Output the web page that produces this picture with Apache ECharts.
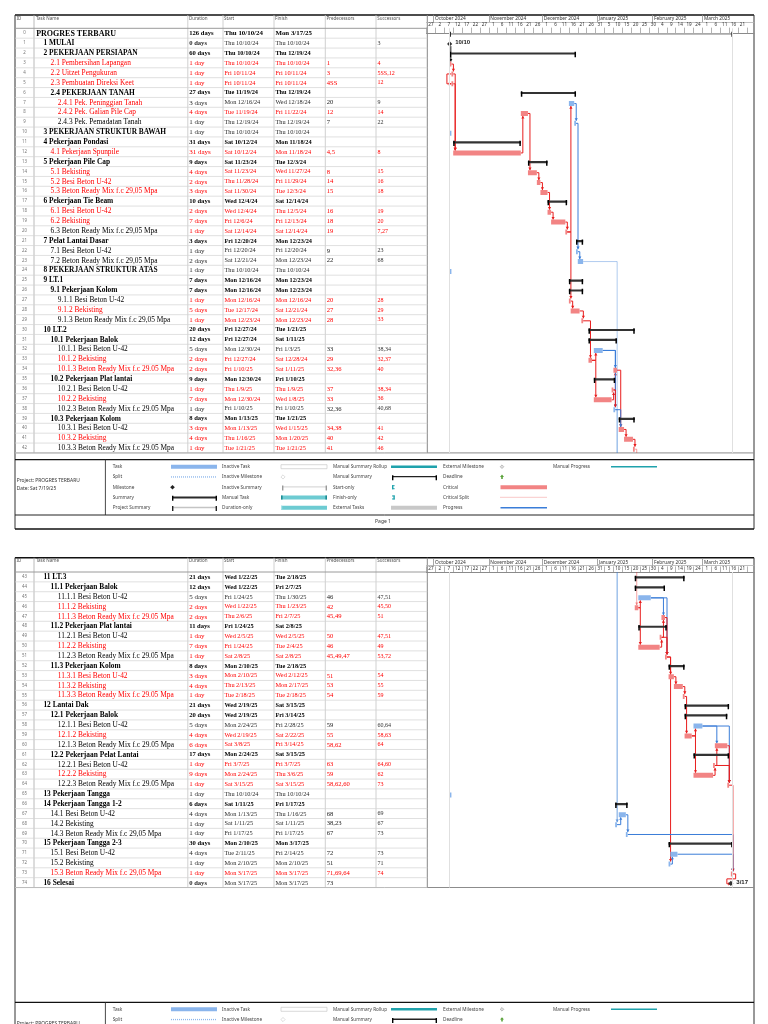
<!DOCTYPE html>
<html><head><meta charset="utf-8"><title>PROGRES TERBARU</title>
<script src="https://cdn.jsdelivr.net/npm/echarts@6.0.0/dist/echarts.min.js"></script>
<style>html,body{margin:0;padding:0;background:#fff;}#chart{width:768px;height:1024px;}</style>
</head><body><div id="chart"></div>
<script>
// ---------------- DATA ----------------
const taskNames = [
 'PROGRES TERBARU','1 MULAI','2 PEKERJAAN PERSIAPAN','2.1 Pembersihan Lapangan','2.2 Uitzet Pengukuran',
 '2.3 Pembuatan Direksi Keet','2.4 PEKERJAAN TANAH','2.4.1 Pek. Peninggian Tanah','2.4.2 Pek. Galian Pile Cap','2.4.3 Pek. Pemadatan Tanah',
 '3 PEKERJAAN STRUKTUR BAWAH','4 Pekerjaan Pondasi','4.1 Pekerjaan Spunpile','5 Pekerjaan Pile Cap','5.1 Bekisting',
 '5.2 Besi Beton U-42','5.3 Beton Ready Mix f.c 29,05 Mpa','6 Pekerjaan Tie Beam','6.1 Besi Beton U-42','6.2 Bekisting',
 '6.3 Beton Ready Mix f.c 29,05 Mpa','7 Pelat Lantai Dasar','7.1 Besi Beton U-42','7.2 Beton Ready Mix f.c 29,05 Mpa','8 PEKERJAAN STRUKTUR ATAS',
 '9 LT.1','9.1 Pekerjaan Kolom','9.1.1 Besi Beton U-42','9.1.2 Bekisting','9.1.3 Beton Ready Mix f.c 29,05 Mpa',
 '10 LT.2','10.1 Pekerjaan Balok','10.1.1 Besi Beton U-42','10.1.2 Bekisting','10.1.3 Beton Ready Mix f.c 29.05 Mpa',
 '10.2 Pekerjaan Plat lantai','10.2.1 Besi Beton U-42','10.2.2 Bekisting','10.2.3 Beton Ready Mix f.c 29.05 Mpa','10.3 Pekerjaan Kolom',
 '10.3.1 Besi Beton U-42','10.3.2 Bekisting','10.3.3 Beton Ready Mix f.c 29.05 Mpa','11 LT.3','11.1 Pekerjaan Balok',
 '11.1.1 Besi Beton U-42','11.1.2 Bekisting','11.1.3 Beton Ready Mix f.c 29.05 Mpa','11.2 Pekerjaan Plat lantai','11.2.1 Besi Beton U-42',
 '11.2.2 Bekisting','11.2.3 Beton Ready Mix f.c 29.05 Mpa','11.3 Pekerjaan Kolom','11.3.1 Besi Beton U-42','11.3.2 Bekisting',
 '11.3.3 Beton Ready Mix f.c 29.05 Mpa','12 Lantai Dak','12.1 Pekerjaan Balok','12.1.1 Besi Beton U-42','12.1.2 Bekisting',
 '12.1.3 Beton Ready Mix f.c 29.05 Mpa','12.2 Pekerjaan Pelat Lantai','12.2.1 Besi Beton U-42','12.2.2 Bekisting','12.2.3 Beton Ready Mix f.c 29.05 Mpa',
 '13 Pekerjaan Tangga','14 Pekerjaan Tangga 1-2','14.1 Besi Beton U-42','14.2 Bekisting','14.3 Beton Ready Mix f.c 29,05 Mpa',
 '15 Pekerjaan Tangga 2-3','15.1 Besi Beton U-42','15.2 Bekisting','15.3 Beton Ready Mix f.c 29,05 Mpa','16 Selesai'
];
const outlineLevels = [
 0,1,1,2,2,2,2,3,3,3, 1,1,2,1,2,2,2,1,2,2, 2,1,2,2,1,1,2,3,3,3, 1,2,3,3,3,2,3,3,3,2,
 3,3,3,1,2,3,3,3,2,3, 3,3,2,3,3,3,1,2,3,3, 3,2,3,3,3,1,1,2,2,2, 1,2,2,2,1
];
// P = project summary, S = summary, T = task, M = milestone
const taskTypes = ('PMSTTTSTTT'+'TSTSTTTSTT'+'TSTTTSSTTT'+'SSTTTSTTTS'+'TTTSSTTTST'+'TTSTTTSSTT'+'TSTTTTSTTT'+'STTTM').split('');
const durations = [
 '126 days','0 days','60 days','1 day','1 day','1 day','27 days','3 days','4 days','1 day',
 '1 day','31 days','31 days','9 days','4 days','2 days','3 days','10 days','2 days','7 days',
 '1 day','3 days','1 day','2 days','1 day','7 days','7 days','1 day','5 days','1 day',
 '20 days','12 days','5 days','2 days','2 days','9 days','1 day','7 days','1 day','8 days',
 '3 days','4 days','1 day','21 days','12 days','5 days','2 days','2 days','11 days','1 day',
 '7 days','1 day','8 days','3 days','4 days','1 day','21 days','20 days','5 days','4 days',
 '6 days','17 days','1 day','9 days','1 day','1 day','6 days','4 days','1 day','1 day',
 '30 days','4 days','1 day','1 day','0 days'
];
const starts = [
 'Thu 10/10/24','Thu 10/10/24','Thu 10/10/24','Thu 10/10/24','Fri 10/11/24','Fri 10/11/24','Tue 11/19/24','Mon 12/16/24','Tue 11/19/24','Thu 12/19/24',
 'Thu 10/10/24','Sat 10/12/24','Sat 10/12/24','Sat 11/23/24','Sat 11/23/24','Thu 11/28/24','Sat 11/30/24','Wed 12/4/24','Wed 12/4/24','Fri 12/6/24',
 'Sat 12/14/24','Fri 12/20/24','Fri 12/20/24','Sat 12/21/24','Thu 10/10/24','Mon 12/16/24','Mon 12/16/24','Mon 12/16/24','Tue 12/17/24','Mon 12/23/24',
 'Fri 12/27/24','Fri 12/27/24','Mon 12/30/24','Fri 12/27/24','Fri 1/10/25','Mon 12/30/24','Thu 1/9/25','Mon 12/30/24','Fri 1/10/25','Mon 1/13/25',
 'Mon 1/13/25','Thu 1/16/25','Tue 1/21/25','Wed 1/22/25','Wed 1/22/25','Fri 1/24/25','Wed 1/22/25','Thu 2/6/25','Fri 1/24/25','Wed 2/5/25',
 'Fri 1/24/25','Sat 2/8/25','Mon 2/10/25','Mon 2/10/25','Thu 2/13/25','Tue 2/18/25','Wed 2/19/25','Wed 2/19/25','Mon 2/24/25','Wed 2/19/25',
 'Sat 3/8/25','Mon 2/24/25','Fri 3/7/25','Mon 2/24/25','Sat 3/15/25','Thu 10/10/24','Sat 1/11/25','Mon 1/13/25','Sat 1/11/25','Fri 1/17/25',
 'Mon 2/10/25','Tue 2/11/25','Mon 2/10/25','Mon 3/17/25','Mon 3/17/25'
];
const finishes = [
 'Mon 3/17/25','Thu 10/10/24','Thu 12/19/24','Thu 10/10/24','Fri 10/11/24','Fri 10/11/24','Thu 12/19/24','Wed 12/18/24','Fri 11/22/24','Thu 12/19/24',
 'Thu 10/10/24','Mon 11/18/24','Mon 11/18/24','Tue 12/3/24','Wed 11/27/24','Fri 11/29/24','Tue 12/3/24','Sat 12/14/24','Thu 12/5/24','Fri 12/13/24',
 'Sat 12/14/24','Mon 12/23/24','Fri 12/20/24','Mon 12/23/24','Thu 10/10/24','Mon 12/23/24','Mon 12/23/24','Mon 12/16/24','Sat 12/21/24','Mon 12/23/24',
 'Tue 1/21/25','Sat 1/11/25','Fri 1/3/25','Sat 12/28/24','Sat 1/11/25','Fri 1/10/25','Thu 1/9/25','Wed 1/8/25','Fri 1/10/25','Tue 1/21/25',
 'Wed 1/15/25','Mon 1/20/25','Tue 1/21/25','Tue 2/18/25','Fri 2/7/25','Thu 1/30/25','Thu 1/23/25','Fri 2/7/25','Sat 2/8/25','Wed 2/5/25',
 'Tue 2/4/25','Sat 2/8/25','Tue 2/18/25','Wed 2/12/25','Mon 2/17/25','Tue 2/18/25','Sat 3/15/25','Fri 3/14/25','Fri 2/28/25','Sat 2/22/25',
 'Fri 3/14/25','Sat 3/15/25','Fri 3/7/25','Thu 3/6/25','Sat 3/15/25','Thu 10/10/24','Fri 1/17/25','Thu 1/16/25','Sat 1/11/25','Fri 1/17/25',
 'Mon 3/17/25','Fri 2/14/25','Mon 2/10/25','Mon 3/17/25','Mon 3/17/25'
];
const predecessors = [
 '','','','1','3','4SS','','20','12','7',
 '','','4,5','','8','14','15','','16','18',
 '19','','9','22','','','','20','27','28',
 '','','33','29','32,36','','37','33','32,36','',
 '34,38','40','41','','','46','42','45,49','','50',
 '46','45,49,47','','51','53','54','','','59','55',
 '58,62','','63','59','58,62,60','','','68','38,23','67',
 '','72','51','71,69,64','73'
];
const successors = [
 '','3','','4','5SS,12','12','','9','14','22',
 '','','8','','15','16','18','','19','20',
 '7,27','','23','68','','','','28','29','33',
 '','','38,34','32,37','40','','38,34','36','40,68','',
 '41','42','46','','','47,51','45,50','51','','47,51',
 '49','53,72','','54','55','59','','','60,64','58,63',
 '64','','64,60','62','73','','','69','67','73',
 '','73','71','74',''
];
const criticalTasks = [3,4,5,8,12,14,15,16,18,19,20,27,28,29,33,34,36,37,40,41,42,46,47,49,50,51,53,54,55,59,60,62,63,64,73];
const redNameTasks = [3,4,5,7,8,12,14,15,16,18,19,28,33,34,37,41,46,47,50,53,54,55,59,63,73];
const columnTitles = ['ID','Task Name','Duration','Start','Finish','Predecessors','Successors'];
const monthStarts = ['10/1/24','11/1/24','12/1/24','1/1/25','2/1/25','3/1/25'];
const monthLabels = ['October 2024','November 2024','December 2024','January 2025','February 2025','March 2025'];
const legendColumns = [
 ['Task','Split','Milestone','Summary','Project Summary'],
 ['Inactive Task','Inactive Milestone','Inactive Summary','Manual Task','Duration-only'],
 ['Manual Summary Rollup','Manual Summary','Start-only','Finish-only','External Tasks'],
 ['External Milestone','Deadline','Critical','Critical Split','Progress'],
 ['Manual Progress']
];
const projectLabel = 'Project: PROGRES TERBARU';
const dateLabel = 'Date: Sat 7/19/25';
const pageLabels = ['Page 1','Page 2'];
const timescaleStart = 'Fri 9/27/24';
const timescaleEnd = 'Mon 3/31/25';

// ---------------- LAYOUT ----------------
function dayOf(s){ const p=s.trim().split(' ').pop().split('/'); return Date.UTC(2000+(+p[2]), +p[0]-1, +p[1]); }
const EPOCH = dayOf(timescaleStart);
function dayIdx(s){ return Math.round((dayOf(s)-EPOCH)/864e5); }
const SPAN = dayIdx(timescaleEnd) - 1; // 185
const RED = '#ff0000';
const isCrit = new Set(criticalTasks), isRedName = new Set(redNameTasks);
const L = { left:15, right:754, tableRight:427.3, ganttLeft:426.5,
  colLines:[34,187.8,223,274,325.3,376],
  colText:[24.5,36.2,189.2,224.4,275.4,326.7,377.5] };
const pages = [
 {first:0, last:42, top:15, rowTop:28.3, rowH:9.875, legendTop:459.7},
 {first:43, last:74, top:557.7, rowTop:572.0, rowH:9.86, legendTop:1002.3}
];
const pageOf = r => (r <= pages[0].last ? 0 : 1);
const SERIF = 'Liberation Serif', SANS = 'Noto Sans';

function txt(x,y,text,fill,size,weight,family,align){
  return {type:'text', x, y, silent:true, style:{text, fill, fontSize:size, fontWeight:weight||'normal', fontFamily:family||SERIF, align:align||'left', verticalAlign:'middle'}};
}

// ---------------- TABLE ROWS ----------------
function renderTableRow(params, api){
  const r = api.value(1);
  const pt = api.coord([0, r]);
  const x0 = pt[0], cy = pt[1];
  const rh = pages[pageOf(r)].rowH;
  const t = taskTypes[r];
  const summary = (t==='P' || t==='S');
  const nameBold = t!=='T' || outlineLevels[r] <= 1;
  const crit = isCrit.has(r);
  const other = crit ? RED : (summary ? '#000' : '#2a2a2a');
  const k = [];
  k.push({type:'line', silent:true, shape:{x1:x0, y1:cy+rh/2, x2:L.tableRight, y2:cy+rh/2}, style:{stroke:'#d2d2d2', lineWidth:0.7}});
  const dx = L.colText.map(v => v - L.left + x0);
  k.push(txt(dx[0], cy, String(r), '#777', 4.4, 'normal', SANS, 'center'));
  k.push(txt(dx[1] + outlineLevels[r]*7.2, cy+0.3, taskNames[r], isRedName.has(r)?RED:'#000', r===0?8:7.4, nameBold?'bold':'normal'));
  k.push(txt(dx[2], cy+0.3, durations[r], other, t==='T'?7:6.6, t==='T'?'normal':'bold'));
  k.push(txt(dx[3], cy+0.3, starts[r], other, r===0?6.9:6.3, summary?'bold':'normal'));
  k.push(txt(dx[4], cy+0.3, finishes[r], other, r===0?6.9:6.3, summary?'bold':'normal'));
  k.push(txt(dx[5], cy+0.3, predecessors[r], crit?RED:'#222', 6.6));
  k.push(txt(dx[6], cy+0.3, successors[r], crit?RED:'#333', 6));
  return {type:'group', children:k};
}

// ---------------- GANTT BARS ----------------
function renderBar(params, api){
  const r = api.value(1);
  const t = taskTypes[r];
  const a = api.coord([api.value(0), r]);
  const b = api.coord([api.value(2), r]);
  const xs = a[0], xe = b[0], cy = a[1];
  if (t==='T'){
    return {type:'rect', shape:{x:xs, y:cy-1.3, width:Math.max(xe-xs,1.6), height:5}, style:{fill: isCrit.has(r)?'#f28484':'#8ab5ec'}};
  }
  if (t==='S'){
    return {type:'group', children:[
      {type:'rect', shape:{x:xs, y:cy-0.6, width:xe-xs, height:2.2}, style:{fill:'#333'}},
      {type:'rect', shape:{x:xs, y:cy-1.2, width:1.5, height:5.4}, style:{fill:'#000'}},
      {type:'rect', shape:{x:xe-1.5, y:cy-1.2, width:1.5, height:5.4}, style:{fill:'#000'}}
    ]};
  }
  if (t==='P'){
    return {type:'group', children:[
      {type:'rect', shape:{x:xs, y:cy-0.2, width:xe-xs, height:1.6}, style:{fill:'#a9a9a9'}},
      {type:'rect', shape:{x:xs, y:cy-1.6, width:1.3, height:5}, style:{fill:'#222'}},
      {type:'rect', shape:{x:xe-1.3, y:cy-1.6, width:1.3, height:5}, style:{fill:'#222'}}
    ]};
  }
  // milestone
  const md = starts[r].split(' ').pop().split('/');
  const yy = cy + 0.8, h = 2.6;
  return {type:'group', children:[
    {type:'polygon', shape:{points:[[xs,yy-h],[xs+h,yy],[xs,yy+h],[xs-h,yy]]}, style:{fill:'#333'}},
    txt(xs+5.5, cy-0.6, md[0]+'/'+md[1], '#222', 6, 'bold', 'Liberation Sans')
  ]};
}

// ---------------- LINKS ----------------
const links = [];
predecessors.forEach((s, succ) => {
  if (!s) return;
  s.split(',').forEach(tok => {
    const m = tok.trim().match(/^(\d+)([A-Z]{2})?$/);
    if (m) links.push({pred:+m[1], succ, type:m[2]||'FS'});
  });
});
function arrow(x,y,dir,col,op){
  const s=2.6, w=1.6;
  let pts;
  if (dir==='down') pts=[[x-w,y-s],[x+w,y-s],[x,y]];
  else if (dir==='up') pts=[[x-w,y+s],[x+w,y+s],[x,y]];
  else pts=[[x-s,y-w],[x-s,y+w],[x,y]];
  return {type:'polygon', shape:{points:pts}, style:{fill:col, opacity:op}};
}
function renderLink(params, api){
  const lk = links[api.value(2)];
  const p = lk.pred, s = lk.succ;
  const predMs = taskTypes[p]==='M';
  const pS = dayIdx(starts[p]);
  const pE = predMs ? pS : dayIdx(finishes[p]) + 1;
  const sS = dayIdx(starts[s]);
  const y1 = api.coord([0,p])[1] + 1.2;
  const y2 = api.coord([0,s])[1] + 1.2;
  const rh = pages[pageOf(s)].rowH;
  const down = y2 > y1, hb = 2.5;
  const col = predMs ? '#111' : (isCrit.has(p) ? '#e81d1d' : '#3a7dd8');
  const op = pageOf(p) !== pageOf(s) ? 0.4 : 1;
  let pts, dir;
  const xS2 = api.coord([sS,0])[0];
  if (lk.type==='SS'){
    const xa = api.coord([pS,0])[0];
    const xl = Math.min(xa, xS2) - 4.5;
    pts = [[xa,y1],[xl,y1],[xl,y2],[xS2,y2]]; dir='right';
  } else if (predMs){
    const xm = api.coord([pS,0])[0] + 1.2;
    pts = [[xm, y1+1.8],[xm, down? y2-hb : y2+hb]]; dir = down?'down':'up';
  } else {
    const x1 = api.coord([pE,0])[0];
    if (xS2 >= x1 - 0.5){
      const xv = Math.max(xS2, x1) + 2;
      pts = [[x1,y1],[xv,y1],[xv, down? y2-hb : y2+hb]]; dir = down?'down':'up';
    } else {
      const xr = x1 + 3, xl = xS2 - 4;
      const ym = down ? y2 - rh/2 : y2 + rh/2;
      pts = [[x1,y1],[xr,y1],[xr,ym],[xl,ym],[xl,y2],[xS2,y2]]; dir='right';
    }
  }
  const end = pts[pts.length-1];
  return {type:'group', children:[
    {type:'polyline', shape:{points:pts}, style:{stroke:col, lineWidth:1, fill:null, opacity:op}},
    arrow(end[0], end[1], dir, col, op)
  ]};
}

// ---------------- AXES / GRIDS / SERIES ----------------
const dayTicks = []; for (let d=0; d<=SPAN; d+=5) dayTicks.push(d);
const dayLabelVals = dayTicks.slice(0,-1).map(d => d+2.5);
const monthDays = monthStarts.map(dayIdx);
const grid=[], xAxis=[], yAxis=[], series=[];
pages.forEach((pg, pi) => {
  const n = pg.last - pg.first + 1, h = n*pg.rowH;
  grid.push({left:L.left, top:pg.rowTop, width:L.tableRight-L.left, height:h, containLabel:false, outerBoundsMode:'none'});
  grid.push({left:L.ganttLeft, top:pg.rowTop, width:L.right-L.ganttLeft, height:h, containLabel:false, outerBoundsMode:'none'});
  const gT = pi*2, gG = pi*2+1;
  xAxis.push({type:'value', gridIndex:gT, min:0, max:L.tableRight-L.left, show:false});
  xAxis.push({type:'value', gridIndex:gG, min:0, max:SPAN, interval:5, position:'top',
    axisLine:{show:true, lineStyle:{color:'#8a8a8a', width:1}},
    axisTick:{show:true, customValues:dayTicks, length:5.6, lineStyle:{color:'#a0a0a0', width:0.8}},
    axisLabel:{show:true, customValues:dayLabelVals, margin:0.9, fontSize:4.6, color:'#333', fontFamily:SANS,
      formatter: v => String(new Date(EPOCH + Math.round(v-2.5)*864e5).getUTCDate())},
    splitLine:{show:false}});
  xAxis.push({type:'value', gridIndex:gG, min:0, max:SPAN, position:'top', offset:6.3,
    axisLine:{show:true, lineStyle:{color:'#b0b0b0', width:0.8}},
    axisTick:{show:true, customValues:monthDays, length:7.2, lineStyle:{color:'#909090', width:0.8}},
    axisLabel:{show:true, customValues:monthDays, margin:0.8, fontSize:4.8, color:'#333', fontFamily:SANS, align:'left', padding:[0,0,0,1.5],
      formatter: v => { const i = monthDays.indexOf(Math.round(v)); return i>=0 ? monthLabels[i] : ''; }},
    splitLine:{show:false}});
  yAxis.push({type:'value', gridIndex:gT, min:pg.first-0.5, max:pg.last+0.5, inverse:true, show:false});
  yAxis.push({type:'value', gridIndex:gG, min:pg.first-0.5, max:pg.last+0.5, inverse:true, show:false});
  const xT = pi*3, xD = pi*3+1, yT = pi*2, yG = pi*2+1;
  const rows = []; for (let r=pg.first; r<=pg.last; r++) rows.push(r);
  series.push({type:'custom', name:'table'+pi, xAxisIndex:xT, yAxisIndex:yT, silent:true, clip:false,
    encode:{x:0, y:1}, data: rows.map(r => [0, r]), renderItem: renderTableRow, z:2});
  series.push({type:'custom', name:'bars'+pi, xAxisIndex:xD, yAxisIndex:yG, silent:true, clip:true,
    encode:{x:[0,2], y:1},
    data: rows.map(r => { const s = dayIdx(starts[r]); return [s, r, taskTypes[r]==='M' ? s : dayIdx(finishes[r])+1]; }),
    renderItem: renderBar, z:4,
    markLine:{silent:true, symbol:['none','none'], label:{show:false}, animation:false,
      lineStyle:{color:'#e0e0e0', width:1, type:'solid'},
      data:[{xAxis: dayIdx(starts[0])}, {xAxis: dayIdx(finishes[0])+1}]}});
  series.push({type:'custom', name:'links'+pi, xAxisIndex:xD, yAxisIndex:yG, silent:true, clip:true,
    encode:{x:0, y:1}, data: links.map((l,i) => [dayIdx(starts[l.pred]), l.pred, i]), renderItem: renderLink, z:3});
});

// ---------------- STATIC FRAME / HEADERS / LEGEND ----------------
const G = [];
const gl = (x1,y1,x2,y2,stroke,w,dash) => G.push({type:'line', silent:true, shape:{x1,y1,x2,y2}, style:{stroke, lineWidth:w||1, lineDash:dash||null}});
const gr = (x,y,w,h,fill,stroke) => G.push({type:'rect', silent:true, shape:{x,y,width:w,height:h}, style:{fill, stroke:stroke||null, lineWidth:stroke?0.7:0}});
const gd = (cx,cy,r,fill,stroke) => G.push({type:'polygon', silent:true, shape:{points:[[cx,cy-r],[cx+r,cy],[cx,cy+r],[cx-r,cy]]}, style:{fill, stroke:stroke||null, lineWidth:0.6}});
const gt = (x,y,text,size,fill,align) => G.push({type:'text', silent:true, x, y, style:{text, fontSize:size, fill, fontFamily:SANS, align:align||'left', verticalAlign:'middle'}});
function bracket(x1,x2,y,bar,cap,bh){ gr(x1,y-1,x2-x1,bh,bar); gr(x1,y-1.6,1.4,5,cap); gr(x2-1.4,y-1.6,1.4,5,cap); }

pages.forEach((pg, pi) => {
  const tb = pg.rowTop + (pg.last-pg.first+1)*pg.rowH;
  const lt = pg.legendTop, lb = lt + 55.3, fb = lt + 69.3;
  const bottom = pi===0 ? fb : 1030;
  gl(L.left, pg.top, L.right, pg.top, '#111', 1.4);
  gl(L.left, pg.top, L.left, bottom, '#333', 1);
  gl(L.right, pg.top, L.right, bottom, '#333', 1);
  L.colLines.forEach((x,i) => gl(x, pg.top, x, tb, i===0?'#a8a8a8':'#c4c4c4', 0.8));
  gl(L.tableRight, pg.top, L.tableRight, tb, '#888', 1);
  gl(L.left, pg.rowTop, L.tableRight, pg.rowTop, '#9a9a9a', 1);
  columnTitles.forEach((c,i) => gt(i===0 ? 16.5 : L.colText[i] - 0.3, pg.top+3.4, c, 4.5, '#555'));
  gl(L.left, tb, L.right, tb, '#8c8c8c', 1);
  gl(L.left, lt, L.right, lt, '#111', 1.3);
  gl(105.4, lt, 105.4, lb, '#333', 0.9);
  gl(L.left, lb, L.right, lb, '#222', 1);
  gl(L.left, fb, L.right, fb, '#111', 1.3);
  gt(16.7, lt+21.3, projectLabel, 4.9, '#333');
  gt(16.7, lt+28.8, dateLabel, 4.9, '#333');
  gt(383, lt+62, pageLabels[pi], 5, '#333', 'center');
  const ry = k => lt + 7 + k*10.25;
  const lx = [112.7, 222, 333, 443, 553];
  legendColumns.forEach((col,ci) => col.forEach((lab,k) => gt(lx[ci], ry(k), lab, 4.7, '#444')));
  // col 1 symbols
  gr(171, ry(0)-2, 46, 4, '#8ab5ec');
  gl(171, ry(1), 217, ry(1), '#8ab5ec', 1.3, [1,1]);
  gd(172.5, ry(2), 2.3, '#222');
  bracket(172, 217, ry(3), '#2a2a2a', '#000', 2);
  bracket(172, 217, ry(4), '#c4c4c4', '#222', 1.5);
  // col 2
  gr(281, ry(0)-2, 46, 4, '#fff', '#c8c8c8');
  gd(283, ry(1), 2.1, '#fff', '#c8c8c8');
  bracket(282, 327, ry(2), '#dadada', '#9a9a9a', 1.2);
  gr(281, ry(3)-2, 46, 4, '#6dcbd2'); gr(281, ry(3)-2, 1.6, 4, '#1c8a92'); gr(325.4, ry(3)-2, 1.6, 4, '#1c8a92');
  gr(281, ry(4)-2, 46, 4, '#6dcbd2'); gr(281, ry(4)-2, 1.2, 4, '#a8e2e6');
  // col 3
  gr(391, ry(0)-1.3, 46, 2.6, '#1fa2ac');
  bracket(392, 437, ry(1), '#222', '#000', 1.4);
  gr(392, ry(2)-2, 1.4, 4, '#1fa2ac'); gr(392, ry(2)-2, 2.6, 1, '#1fa2ac'); gr(392, ry(2)+1, 2.6, 1, '#1fa2ac');
  gr(393.4, ry(3)-2, 1.4, 4, '#1fa2ac'); gr(392, ry(3)-2, 2.6, 1, '#1fa2ac'); gr(392, ry(3)+1, 2.6, 1, '#1fa2ac');
  gr(391, ry(4)-2, 46, 4, '#c8c8c8');
  // col 4
  gd(502, ry(0), 1.8, '#e0e0e0', '#999');
  G.push({type:'polygon', silent:true, shape:{points:[[502,ry(1)-2.4],[504,ry(1)],[502.8,ry(1)],[502.8,ry(1)+2],[501.2,ry(1)+2],[501.2,ry(1)],[500,ry(1)]]}, style:{fill:'#5aa23a'}});
  gr(500.5, ry(2)-2, 46.5, 4, '#f28484');
  gl(500.5, ry(3), 547, ry(3), '#f4a6a6', 1.2, [1,1]);
  gl(500.5, ry(4), 547, ry(4), '#3a7dd8', 1.5);
  // col 5
  gl(611, ry(0), 657, ry(0), '#1fa2ac', 1.5);
});

const option = {
  animation:false,
  backgroundColor:'#fff',
  grid, xAxis, yAxis, series,
  graphic:{elements:G}
};
const chart = echarts.init(document.getElementById('chart'), null, {renderer:'canvas'});
chart.setOption(option);
</script></body></html>
